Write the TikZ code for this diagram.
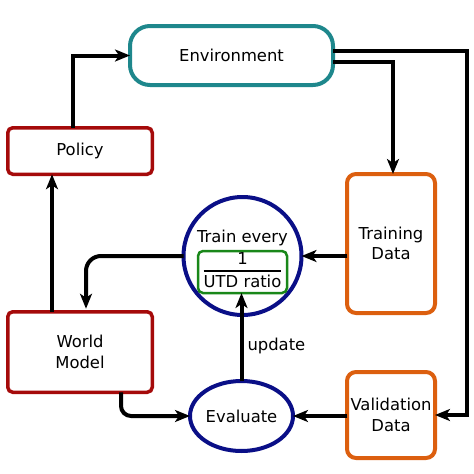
\documentclass[tikz,border=0pt]{standalone}
\usepackage{fontspec}
\setmainfont{DejaVu Sans}
\usetikzlibrary{arrows.meta,shapes.geometric,calc}
\definecolor{cteal}{RGB}{30,135,140}
\definecolor{cred}{RGB}{165,10,10}
\definecolor{corange}{RGB}{220,95,15}
\definecolor{cblue}{RGB}{10,15,135}
\definecolor{cgreen}{RGB}{25,135,25}
\tikzset{
  base/.style={font=\fontsize{16.4}{20.5}\selectfont, align=center, inner sep=0pt, outer sep=0pt},
  envbox/.style={base, draw=cteal, line width=4pt, rounded corners=20pt, minimum width=203pt, minimum height=59pt},
  redbox/.style={base, draw=cred, line width=3.5pt, rounded corners=5pt, minimum width=144.5pt},
  databox/.style={base, draw=corange, line width=4pt, rounded corners=9pt, minimum width=88pt},
  bluecirc/.style={base, draw=cblue, line width=4pt, circle, minimum size=118pt},
  blueell/.style={base, draw=cblue, line width=4pt, ellipse, minimum width=103pt, minimum height=70pt},
  fracbox/.style={base, draw=cgreen, line width=2.5pt, rounded corners=5pt, minimum width=89pt, minimum height=42pt},
  conn/.style={line width=4pt, -{Stealth[length=15pt,width=12pt,inset=4pt]}},
  lbl/.style={base}
}
\begin{document}
\begin{tikzpicture}[x=1pt,y=-1pt]
\useasboundingbox (0,0) rectangle (474,474);
\node[envbox] (env) at (231.5,55.5) {Environment};
\node[redbox, minimum height=46.5pt] (policy) at (80,151) {Policy};
\node[redbox, minimum height=80.5pt] (wm) at (80,352) {World\\Model};
\node[databox, minimum height=139pt] (train) at (391,243.5) {Training\\Data};
\node[databox, minimum height=86pt] (val) at (391,415) {Validation\\Data};
\node[bluecirc] (tc) at (242.5,256) {};
\node[lbl] (every) at (242.5,238) {Train every};
\node[fracbox] (frac) at (242.5,272) {\setlength{\arrayrulewidth}{1.8pt}\renewcommand{\arraystretch}{0.9}\begin{tabular}{@{}c@{}}1\\\hline\rule{0pt}{15.5pt}UTD ratio\end{tabular}};
\node[blueell] (eval) at (241.5,416) {Evaluate};
\coordinate (pbend) at (73,55.5);
\coordinate (vbend) at (467,51);
\coordinate (tbend) at (393,62);
% connectors
\draw[conn] (policy.north -| pbend) |- (env.west);
\draw[conn] (env.east |- vbend) -- (vbend) |- (val.east);
\draw[conn] (env.east |- tbend) -| (train.north -| tbend);
\draw[conn] (train.west |- tc.east) -- (tc.east);
\draw[conn, rounded corners=15pt] (tc.west) -| ($(wm.north -| 86,0)+(0,-3)$);
\draw[conn] (wm.north -| 52,0) -- (policy.south -| 52,0);
\draw[conn, rounded corners=10pt] (wm.south -| 121,0) |- (eval.west);
\draw[conn] (val.west |- eval.east) -- (eval.east);
\draw[conn] (eval.north) -- node[lbl, right=6pt, pos=0.4] (upd) {update} (eval.north |- frac.south);
\end{tikzpicture}
\end{document}
